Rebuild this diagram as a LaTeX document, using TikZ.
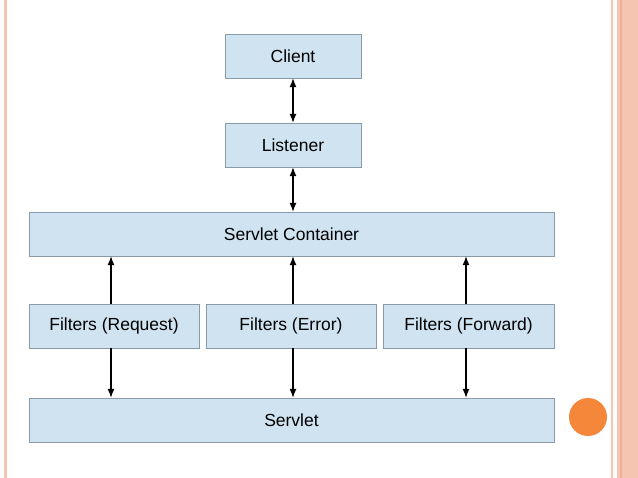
\documentclass[tikz,border=0pt]{standalone}
\usepackage{fontspec}
\setmainfont{Liberation Sans}
\usetikzlibrary{arrows.meta}
\definecolor{boxfill}{HTML}{CFE3F1}
\definecolor{boxdraw}{HTML}{8A9AA6}
\definecolor{rim}{HTML}{F6C5B2}
\definecolor{rimdark}{HTML}{EFAE97}
\definecolor{dot}{HTML}{F5873A}
\tikzset{
  blk/.style={draw=boxdraw,fill=boxfill,inner sep=0pt,font=\fontsize{17.5}{20}\selectfont},
  link/.style={line width=1.1pt,>={Latex[length=9pt,width=7pt]}}
}
\begin{document}
\begin{tikzpicture}[x=1pt,y=-1pt]
	%page
	\useasboundingbox (0,0) rectangle (638,478);
	\fill[white] (0,0) rectangle (638,478);
	\fill[rim] (4,0) rectangle (7,478); %left rim
	\fill[rim] (611,0) rectangle (613,478); %right rim thin
	\fill[rim] (617,0) rectangle (638,478); %right band
	\fill[rimdark] (620,0) rectangle (622,478);
	\fill[dot] (588,417) circle (19);

	%boxes
	\node[blk,minimum width=136,minimum height=44] (client) at (293,56) {Client};
	\node[blk,minimum width=136,minimum height=44] (listener) at (293,145) {Listener};
	\node[blk,minimum width=525,minimum height=44] (cont) at (291.5,234) {Servlet Container};
	\node[blk,minimum width=170,minimum height=44] (freq) at (114,326) {Filters (Request)};
	\node[blk,minimum width=170,minimum height=44] (ferr) at (291,326) {Filters (Error)};
	\node[blk,minimum width=171,minimum height=44] (ffwd) at (468.5,326) {Filters (Forward)};
	\node[blk,minimum width=525,minimum height=44] (servlet) at (291.5,420) {Servlet};

	%arrows
	\draw[link,<->] (client) -- (listener);
	\draw[link,<->] (listener) -- (listener |- cont.north);
	\draw[link,->] (freq.north -| 111,0) -- (111,0 |- cont.south);
	\draw[link,->] (ferr.north -| 293,0) -- (293,0 |- cont.south);
	\draw[link,->] (ffwd.north -| 466,0) -- (466,0 |- cont.south);
	\draw[link,->] (freq.south -| 111,0) -- (111,0 |- servlet.north);
	\draw[link,->] (ferr.south -| 293,0) -- (293,0 |- servlet.north);
	\draw[link,->] (ffwd.south -| 466,0) -- (466,0 |- servlet.north);
\end{tikzpicture}
\end{document}
